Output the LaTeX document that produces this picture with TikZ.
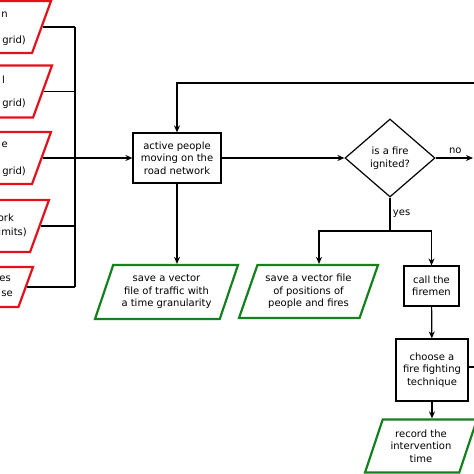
\documentclass[tikz,border=0pt]{standalone}
\usepackage{fontspec}
\setmainfont{DejaVu Sans}
\usetikzlibrary{shapes.geometric, arrows.meta}

\definecolor{inred}{RGB}{226,18,28}
\definecolor{outgreen}{RGB}{22,128,30}

\tikzset{
  every node/.style={font=\fontsize{10}{12.5}\selectfont},
  line/.style={draw, line width=1.2pt},
  flow/.style={draw, line width=1.2pt, -{Stealth[length=7pt,width=6pt]}},
  proc/.style={rectangle, draw, line width=1.2pt, align=center, inner sep=0pt},
  ask/.style={diamond, draw, line width=1.2pt, align=center, inner sep=0pt,
    minimum width=90pt, minimum height=78pt},
  iofile/.style={trapezium, trapezium left angle=70, trapezium right angle=110,
    trapezium stretches body, line width=2.2pt, align=center, inner xsep=0pt},
  savefile/.style={iofile, draw=outgreen, inner ysep=8pt},
  inputfile/.style={iofile, draw=inred, minimum width=120pt, inner ysep=26pt},
  cut/.style={anchor=east, inner sep=0pt}
}

\begin{document}
\begin{tikzpicture}[x=1pt, y=-1pt]
    \useasboundingbox (0,0) rectangle (474,474);

    % input files, cut by the left border
    \node[inputfile] (in1) at (-9,27) {};
    \node[inputfile] (in2) at (-8,91.5) {};
    \node[inputfile] (in3) at (-9,158) {};
    \node[inputfile] (in4) at (-11,226) {};
    \node[inputfile, inner ysep=20pt] (in5) at (-27,287) {};

    \node[cut] (in1a) at (8,15) {n};
    \node[cut] (in1b) at (26,41) {grid)};
    \node[cut] (in2a) at (5,80) {l};
    \node[cut] (in2b) at (26,104) {grid)};
    \node[cut] (in3a) at (8,145) {e};
    \node[cut] (in3b) at (26,172) {grid)};
    \node[cut] (in4a) at (14,218) {ork};
    \node[cut] (in4b) at (27,232) {imits)};
    \node[cut] (in5a) at (11,279) {es};
    \node[cut] (in5b) at (13,294) {se};

    % main steps
    \node[proc, minimum width=88pt, minimum height=50pt] (active) at (177,158)
        {active people\\moving on the\\road network};
    \node[ask] (ign) at (390,158) {is a fire\\ignited?};
    \node[proc, minimum width=55pt, minimum height=40pt] (fire) at (431.5,286)
        {call the\\firemen};
    \node[proc, minimum width=72pt, minimum height=62pt] (choose) at (432,370)
        {choose a\\fire fighting\\technique};

    \node[savefile, minimum width=143pt, minimum height=54pt] (save1) at (166.5,292)
        {save a vector\\file of traffic with\\a time granularity};
    \node[savefile, minimum width=139pt, minimum height=53pt] (save2) at (308.5,291.5)
        {save a vector file\\of positions of\\people and fires};
    \node[savefile, minimum width=112pt, minimum height=53pt] (record) at (421,446)
        {record the\\intervention\\time};

    \coordinate (busTop) at (75,27);
    \coordinate (busBot) at (75,287);
    \coordinate (loopEnd) at (474,83);
    \coordinate (noEnd) at (473,158);
    \coordinate (split) at (390,231);
    \coordinate (chEnd) at (474,367);

    % inputs into the road network
    \draw[line] (in1.east) -- (in1.east -| busTop);
    \draw[line] (in2.east) -- (in2.east -| busTop);
    \draw[line] (in4.east) -- (in4.east -| busTop);
    \draw[line] (in5.east) -- (in5.east -| busTop);
    \draw[line] (busTop) -- (busBot);
    \draw[flow] (in3) -- (active);

    \draw[flow] (loopEnd) -| (active);
    \draw[flow] (active) -- (ign);
    \draw[flow] (active) -- (active |- save1.north);
    \draw[flow] (ign) -- node[above, xshift=1pt] (no) {no} (noEnd);
    \draw[line] (ign) -- node[right, xshift=-1pt, yshift=1pt] (yes) {yes} (split);
    \draw[flow] (split) -| ([xshift=10.5pt]save2.north);
    \draw[flow] (split) -| (fire);
    \draw[flow] (fire) -- (choose);
    \draw[line] (choose.east |- chEnd) -- (chEnd);
    \draw[flow] (choose) -- (choose |- record.north);
\end{tikzpicture}
\end{document}
